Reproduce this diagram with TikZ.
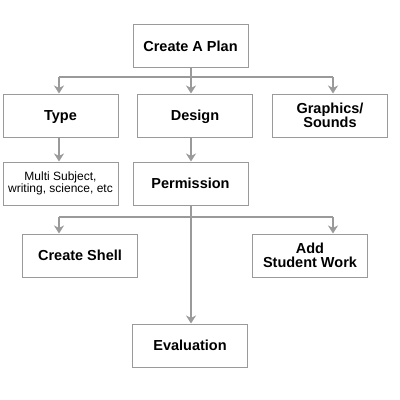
\documentclass[tikz,border=0pt]{standalone}
\usepackage{fontspec}
\setmainfont{Liberation Sans}
\usetikzlibrary{arrows.meta}
\definecolor{linegray}{HTML}{9A9A9A}
\tikzset{
  box/.style={draw=linegray, line width=1pt, minimum width=115pt, minimum height=43pt, inner sep=0pt, align=center, font=\fontsize{14.5}{13.5}\selectfont\bfseries},
  onebox/.style={box, text height=10.4pt, text depth=0pt},
  twobox/.style={box, yshift=-1pt},
  smallbox/.style={box, font=\fontsize{12}{12.5}\selectfont},
  conn/.style={draw=linegray, line width=1.3pt},
  arr/.style={conn, -{Stealth[width=10pt,length=8pt,inset=2.5pt]}}
}
\begin{document}
\begin{tikzpicture}[x=1pt,y=-1pt]
\useasboundingbox (0,0) rectangle (400,400);
\node[onebox] (plan) at (190.5,46) {Create A Plan};
\node[onebox] (type) at (60.5,115.5) {Type};
\node[onebox] (design) at (195,115.5) {Design};
\node[box] (graph) at (330,115.5) {Graphics/\\Sounds};
\node[smallbox] (multi) at (60.5,183.5) {Multi Subject,\\writing, science, etc};
\node[onebox] (perm) at (190.5,183.5) {Permission};
\node[onebox] (shell) at (80,255.5) {Create Shell};
\node[box] (add) at (310,255.5) {Add\\Student Work};
\node[onebox] (eval) at (190,345.5) {Evaluation};
\coordinate (j1) at (191,77);
\coordinate (j1l) at (59,77);
\coordinate (j1r) at (333,77);
\coordinate (j2) at (191,217);
\coordinate (j2l) at (59,217);
\coordinate (j2r) at (333,217);
\draw[conn] (plan.south -| j1) -- (j1);
\draw[conn] (j1l) -- (j1r);
\draw[arr] (j1l) -- (j1l |- type.north);
\draw[arr] (j1) -- (j1 |- design.north);
\draw[arr] (j1r) -- (j1r |- graph.north);
\draw[arr] (type.south -| j1l) -- (j1l |- multi.north);
\draw[arr] (design.south -| j1) -- (j1 |- perm.north);
\draw[conn] (perm.south -| j2) -- (j2);
\draw[conn] (j2l) -- (j2r);
\draw[arr] (j2l) -- (j2l |- shell.north);
\draw[arr] (j2r) -- (j2r |- add.north);
\draw[arr] (j2) -- (j2 |- eval.north);
\end{tikzpicture}
\end{document}
